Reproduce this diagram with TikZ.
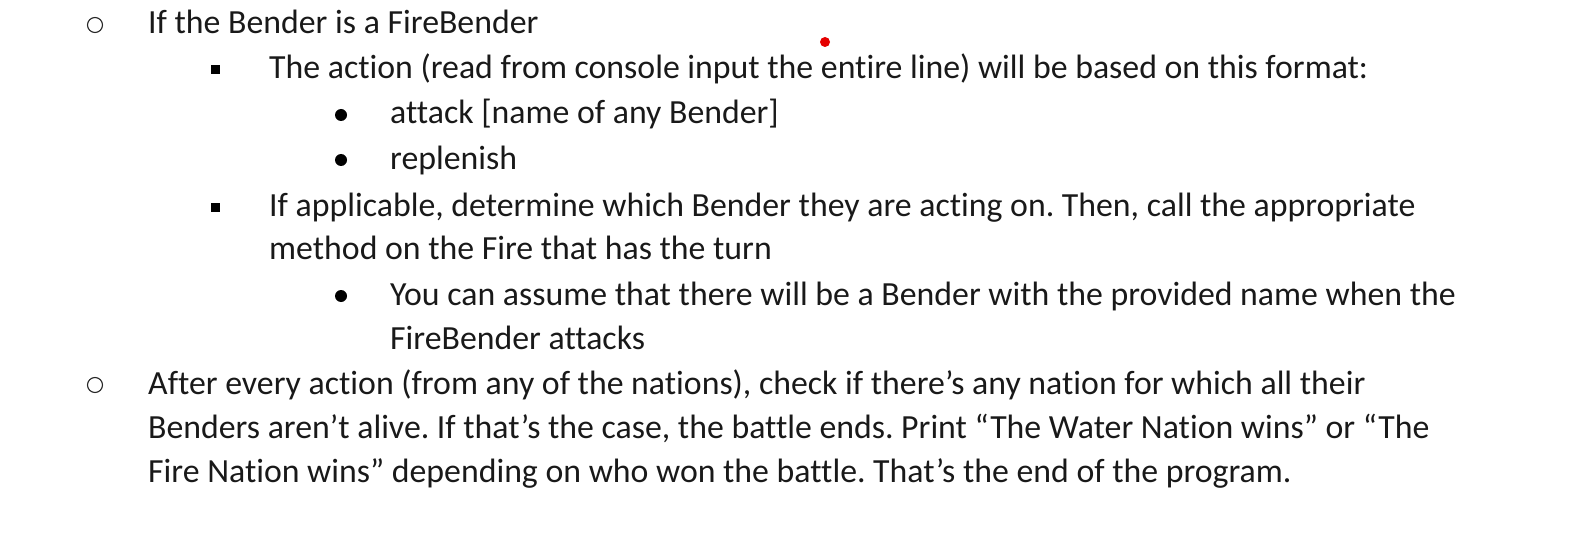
\documentclass[tikz,border=0pt]{standalone}
\usepackage{fontspec}
\setmainfont{Carlito}[Ligatures=CommonOff]
\frenchspacing
\begin{document}
\begin{tikzpicture}[x=1pt,y=-1pt,
  txt/.style={anchor=base west,inner sep=0pt,font=\fontsize{33.8}{40}\selectfont,text=black!90},
  ocirc/.style={draw=black!85,line width=1.1pt,circle,minimum size=15pt,inner sep=0pt},
  sq/.style={fill=black,minimum size=9pt,inner sep=0pt},
  dot/.style={fill=black,circle,minimum size=12pt,inner sep=0pt}]
\useasboundingbox (0,0) rectangle (1570,540);
\node[ocirc] (m1) at (95,25) {};
\node[txt] (t1) at (148,34) {If the Bender is a FireBender};
\node[sq] (m2) at (215,70) {};
\node[txt] (t2) at (269,79) {The action (read from console input the entire line) will be based on this format:};
\node[dot] (m3) at (341,115) {};
\node[txt] (t3) at (390,124) {attack [name of any Bender]};
\node[dot] (m4) at (341,160) {};
\node[txt] (t4) at (390,170) {replenish};
\node[sq] (m5) at (215,207) {};
\node[txt] (t5) at (269,216) {If applicable, determine which Bender they are acting on. Then, call the appropriate};
\node[txt] (t6) at (269,259) {method on the Fire that has the turn};
\node[dot] (m6) at (341,296) {};
\node[txt] (t7) at (390,305) {You can assume that there will be a Bender with the provided name when the};
\node[txt] (t8) at (390,349) {FireBender attacks};
\node[ocirc] (m7) at (95,385) {};
\node[txt] (t9) at (148,394) {After every action (from any of the nations), check if there’s any nation for which all their};
\node[txt] (t10) at (148,438) {Benders aren’t alive. If that’s the case, the battle ends. Print “The Water Nation wins” or “The};
\node[txt] (t11) at (148,482) {Fire Nation wins” depending on who won the battle. That’s the end of the program.};
\fill[red!90!black] (825,42) circle (5);
\end{tikzpicture}
\end{document}
